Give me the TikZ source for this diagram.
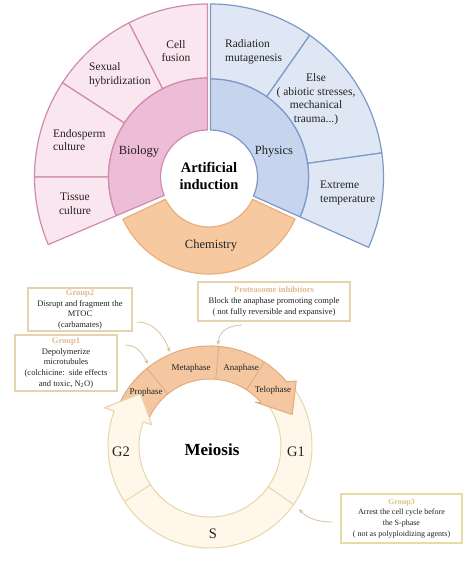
\documentclass[tikz,border=0pt]{standalone}
\usepackage{fontspec}
\setmainfont{Liberation Serif}
\usetikzlibrary{arrows.meta}
\definecolor{bioO}{HTML}{FAE6EF}
\definecolor{bioR}{HTML}{EDBCD6}
\definecolor{bioB}{HTML}{CF8BAF}
\definecolor{phyO}{HTML}{DFE7F4}
\definecolor{phyR}{HTML}{C6D4EE}
\definecolor{phyB}{HTML}{7D99C9}
\definecolor{chemF}{HTML}{F6C9A0}
\definecolor{chemB}{HTML}{ECAE7A}
\definecolor{creamF}{HTML}{FEF7EA}
\definecolor{creamB}{HTML}{E9D6A8}
\definecolor{orF}{HTML}{F4C7A1}
\definecolor{orB}{HTML}{E3AB80}
\definecolor{boxB}{HTML}{E6D2AE}
\definecolor{boxY}{HTML}{E6DDA4}
\definecolor{grpC}{HTML}{E2B98E}
\definecolor{grpY}{HTML}{D8C57F}
\definecolor{callC}{HTML}{D9C29C}
\definecolor{txt}{HTML}{222222}
\newcommand{\ringsec}[5]{\path[#1] (#2:#4pt) arc[start angle=#2, end angle=#3, radius=#4pt] -- (#3:#5pt) arc[start angle=#3, end angle=#2, radius=#5pt] -- cycle;}
\tikzset{
  bioout/.style={fill=bioO, draw=bioB, line width=1.2pt, line join=round},
  bioring/.style={fill=bioR, draw=bioB, line width=1.2pt, line join=round},
  phyout/.style={fill=phyO, draw=phyB, line width=1.2pt, line join=round},
  phyring/.style={fill=phyR, draw=phyB, line width=1.2pt, line join=round},
  chemring/.style={fill=chemF, draw=chemB, line width=1.2pt, line join=round},
  lab/.style={inner sep=0pt, text=txt, font=\fontsize{11.5}{13.5}\selectfont},
  ringlab/.style={inner sep=0pt, text=txt, font=\fontsize{12.5}{14}\selectfont},
  phase/.style={inner sep=0pt, text=txt, font=\fontsize{9}{10}\selectfont},
  gl/.style={inner sep=0pt, text=txt, font=\fontsize{14.5}{16}\selectfont},
  callbox/.style={draw=boxB, line width=1.1pt, fill=white, align=center, inner sep=1pt, text=txt, font=\fontsize{8.5}{10.8}\selectfont},
  callarrow/.style={draw=callC, line width=0.8pt, -{Stealth[length=4.5pt,width=4pt]}},
}
\begin{document}
\begin{tikzpicture}[x=1pt,y=1pt]
\useasboundingbox (0,0) rectangle (474,564);
\fill[white] (0,0) rectangle (474,564);

% ---------- Artificial induction ----------
\begin{scope}[shift={(207.5,387)}]
  \ringsec{bioout}{90}{117}{99}{173}
  \ringsec{bioout}{117}{147}{99}{173}
  \ringsec{bioout}{147}{180}{99}{173}
  \ringsec{bioout}{180}{203}{99}{173}
  \ringsec{bioring}{90}{203}{47}{99}
\end{scope}
\begin{scope}[shift={(210.5,387)}]
  \ringsec{phyout}{55}{90}{98}{173}
  \ringsec{phyout}{8}{55}{98}{173}
  \ringsec{phyout}{-24}{8}{98}{173}
  \ringsec{phyring}{-24}{90}{47}{98}
\end{scope}
\begin{scope}[shift={(209,385)}]
  \ringsec{chemring}{205}{335}{48}{95}
\end{scope}
\fill[white] (209,387) circle[radius=46pt];

\node[lab, align=center] (cellf) at (176,513) {Cell\\fusion};
\node[lab, align=left, anchor=west] (sexh) at (89,489) {Sexual\\hybridization};
\node[lab, align=left, anchor=west] (endo) at (53,424) {Endosperm\\culture};
\node[lab, align=center] (tiss) at (75,360) {Tissue\\culture};
\node[lab, align=left, anchor=west] (radm) at (225,512) {Radiation\\mutagenesis};
\node[lab, align=center] (elsel) at (316,465) {Else\\( abiotic stresses,\\mechanical\\trauma...)};
\node[lab, align=left, anchor=west] (extt) at (320,371) {Extreme\\temperature};
\node[ringlab] (bio) at (139,412) {Biology};
\node[ringlab] (phy) at (274,412) {Physics};
\node[ringlab] (chem) at (211,318) {Chemistry};
\node[inner sep=0pt, text=black, align=center, font=\bfseries\fontsize{14.5}{17}\selectfont] (ai) at (209,388.5) {Artificial\\induction};

% ---------- Meiosis cycle ----------
\begin{scope}[shift={(210,118)}]
  % cream ring with head
  \path[fill=creamF, draw=creamB, line width=1pt, line join=round]
    (38:102pt) arc[start angle=38, end angle=-200, radius=102pt]
    -- (-200:112pt) -- (-217:87pt) -- (-200:62pt) -- (-200:71pt)
    arc[start angle=-200, end angle=38, radius=71pt] -- cycle;
  \draw[creamB, line width=1pt] (213:71pt) -- (213:102pt);
  \draw[creamB, line width=1pt] (325:71pt) -- (325:102pt);
  % orange band with head
  \path[fill=orF, draw=orB, line width=1pt, line join=round]
    (156:100pt) arc[start angle=156, end angle=40, radius=100pt]
    -- (37:108pt) -- (21:88pt) -- (44:63pt) -- (40:67pt)
    arc[start angle=40, end angle=156, radius=67pt] -- cycle;
  \draw[orB, line width=0.9pt] (129:67pt) -- (129:100pt);
  \draw[orB, line width=0.9pt] (85:67pt) -- (85:100pt);
  \draw[orB, line width=0.9pt] (57:67pt) -- (57:100pt);
  % cream head over orange start
  \fill[creamF] (-200:102pt) -- (-200:112pt) -- (-217:87pt) -- (-200:62pt) -- (-200:71pt) -- cycle;
  \draw[creamB, line width=1pt, line join=round] (-200:102pt) -- (-200:112pt) -- (-217:87pt) -- (-200:62pt) -- (-200:71pt);
\end{scope}

\node[phase] (pro) at (146,172) {Prophase};
\node[phase] (meta) at (191,196) {Metaphase};
\node[phase] (ana) at (241,196) {Anaphase};
\node[phase] (telo) at (273,174) {Telophase};
\node[inner sep=0pt, text=black, font=\bfseries\fontsize{17}{19}\selectfont] (mei) at (212,114) {Meiosis};
\node[gl] (g2) at (121,112) {G2};
\node[gl] (g1) at (296,112) {G1};
\node[gl] (s) at (213,30) {S};

% ---------- Callout boxes ----------
\node[callbox, minimum width=104pt, minimum height=43pt] (grp2) at (80,254.5)
  {\textcolor{grpC}{\textbf{Group2}}\\Disrupt and fragment the\\MTOC\\(carbamates)};
\node[callbox, minimum width=102pt, minimum height=56pt] (grp1) at (66,201)
  {\textcolor{grpC}{\textbf{Group1}}\\Depolymerize\\microtubules\\(colchicine:\ \ side effects\\and toxic, N\textsubscript{2}O)};
\node[callbox, minimum width=152pt, minimum height=39pt] (prot) at (274,262.5)
  {\textcolor{grpC}{\textbf{Proteasome inhibitors}}\\Block the anaphase promoting comple\\( not fully reversible and expansive)};
\node[callbox, draw=boxY, minimum width=121pt, minimum height=49pt, font=\fontsize{8}{10.8}\selectfont] (grp3) at (401.5,45.5)
  {\textcolor{grpY}{\textbf{Group3}}\\Arrest the cell cycle before\\the S-phase\\( not as polyploidizing agents)};

\coordinate (c2s) at (137,242);
\coordinate (c2e) at (170,212);
\coordinate (c1s) at (125,219);
\coordinate (c1e) at (148,200);
\coordinate (cps) at (242,239);
\coordinate (cpe) at (218,219);
\coordinate (c3s) at (332,42);
\coordinate (c3e) at (299,55);
\draw[callarrow] (c2s) .. controls (153,242) and (163,230) .. (c2e);
\draw[callarrow] (c1s) .. controls (137,219) and (142,211) .. (c1e);
\draw[callarrow] (cps) .. controls (226,238) and (219,232) .. (cpe);
\draw[callarrow] (c3s) .. controls (317,42) and (307,46) .. (c3e);
\end{tikzpicture}
\end{document}
